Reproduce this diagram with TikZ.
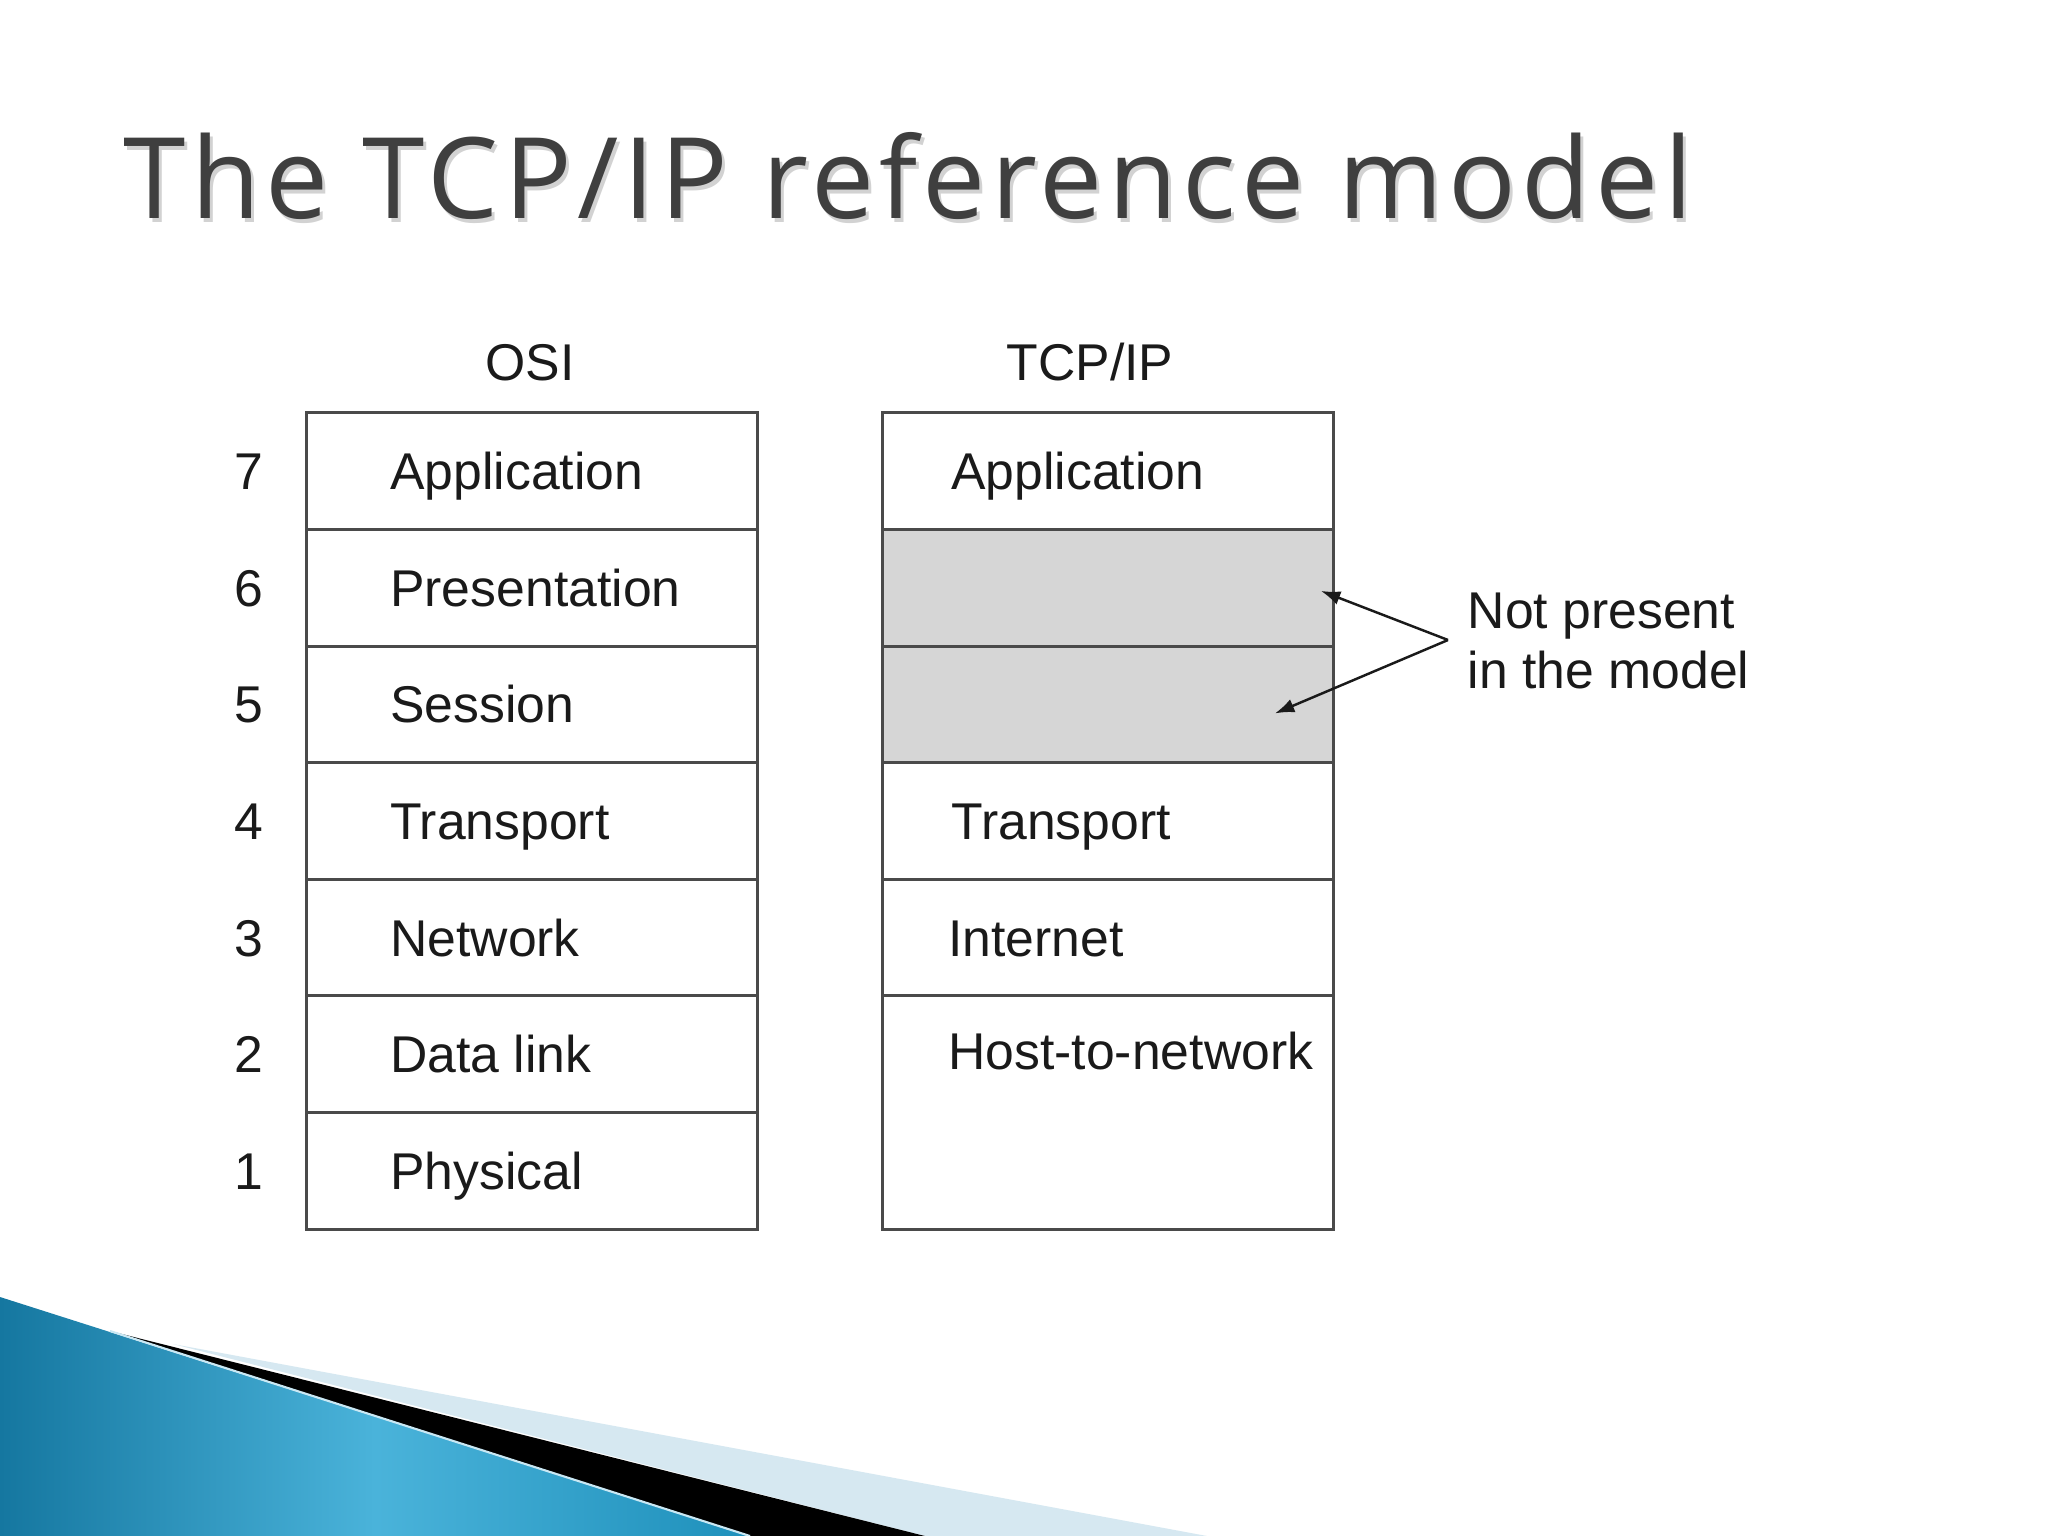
\documentclass[tikz,border=0pt]{standalone}
\usepackage{fontspec}
\setmainfont{Liberation Sans}
\newfontfamily\titlefont[LetterSpace=4.6]{Open Sans}
\usetikzlibrary{arrows.meta,calc}
\definecolor{titlegray}{HTML}{3F3F3F}
\definecolor{linegray}{HTML}{4A4A4A}
\definecolor{textblack}{HTML}{1A1A1A}
\definecolor{fillgray}{HTML}{D6D6D6}
\definecolor{paleblue}{HTML}{D6E8F1}
\definecolor{bluedark}{HTML}{1577A0}
\definecolor{bluelight}{HTML}{4AB3DA}
\definecolor{bluemid}{HTML}{1E90BB}
\begin{document}
\begin{tikzpicture}[x=0.01cm,y=-0.01cm,
  cell/.style={draw=linegray, line width=0.85pt, minimum width=4.51cm, minimum height=1.166cm, inner sep=0pt, outer sep=0pt},
  tallcell/.style={cell, minimum height=2.332cm},
  shaded/.style={fill=fillgray},
  lbl/.style={font=\fontsize{14.7}{17.1}\selectfont, text=textblack, inner sep=0pt, text height=10.5pt, text depth=0pt},
  arrowline/.style={draw=textblack, line width=0.7pt, -{Latex[length=5.5pt,width=4pt]}}
]
\useasboundingbox (0,0) rectangle (2048,1536);
\fill[white] (0,0) rectangle (2048,1536);

% bottom-left decoration
\fill[paleblue] (173,1344) -- (1207,1536) -- (925,1536) -- cycle;
\fill[black] (110,1331) -- (925,1536) -- (750,1536) -- cycle;
\shade[left color=bluedark, right color=bluemid, middle color=bluelight] (0,1297) -- (750,1536) -- (0,1536) -- cycle;
\draw[white!70!bluelight, line width=0.6pt] (110,1331) -- (750,1536);

% title
\node[anchor=base west, inner sep=0pt, text=gray!35, font=\titlefont\fontsize{32}{40}\selectfont] (titleshadow) at (126,222) {The TCP/IP reference model};
\node[anchor=base west, inner sep=0pt, text=titlegray, font=\titlefont\fontsize{32}{40}\selectfont] (title) at (123,218) {The TCP/IP reference model};

% column heads
\node[lbl] (osihead) at (530,362) {OSI};
\node[lbl] (tcphead) at (1090,362) {TCP/IP};

% OSI column
\node[cell] (o7) at (532.2,471.3) {};
\node[cell] (o6) at (532.2,587.9) {};
\node[cell] (o5) at (532.2,704.4) {};
\node[cell] (o4) at (532.2,821.0) {};
\node[cell] (o3) at (532.2,937.6) {};
\node[cell] (o2) at (532.2,1054.1) {};
\node[cell] (o1) at (532.2,1170.7) {};

\foreach \c/\t in {o7/Application,o6/Presentation,o5/Session,o4/Transport,o3/Network,o2/Data link,o1/Physical}{
  \node[lbl, anchor=west] (\c t) at ($(\c.west)+(83,0)$) {\t};
}
\foreach \c/\n in {o7/7,o6/6,o5/5,o4/4,o3/3,o2/2,o1/1}{
  \node[lbl] (\c n) at (249,0 |- \c.center) {\n};
}

% TCP/IP column
\node[cell] (t7) at (1108.3,471.3) {};
\node[cell, shaded] (t6) at (1108.3,587.9) {};
\node[cell, shaded] (t5) at (1108.3,704.4) {};
\node[cell] (t4) at (1108.3,821.0) {};
\node[cell] (t3) at (1108.3,937.6) {};
\node[tallcell] (t21) at (1108.3,1112.4) {};

\node[lbl, anchor=west] (t7t) at ($(t7.west)+(68,0)$) {Application};
\node[lbl, anchor=west] (t4t) at ($(t4.west)+(68,0)$) {Transport};
\node[lbl, anchor=west] (t3t) at ($(t3.west)+(65,0)$) {Internet};
\node[lbl, anchor=west] (t21t) at ($(t21.north west)+(65,55)$) {Host-to-network};

% annotation
\node[anchor=north west, align=left, inner sep=0pt, text=textblack, font=\fontsize{14.7}{17.1}\selectfont] (note) at (1467,592) {Not present\\in the model};
\coordinate (apex) at (1448,640);
\coordinate (tip1) at ($(t6.east)+(-13,3)$);
\coordinate (tip2) at ($(t5.east)+(-59,9)$);
\draw[arrowline] (apex) -- (tip1);
\draw[arrowline] (apex) -- (tip2);
\end{tikzpicture}
\end{document}
